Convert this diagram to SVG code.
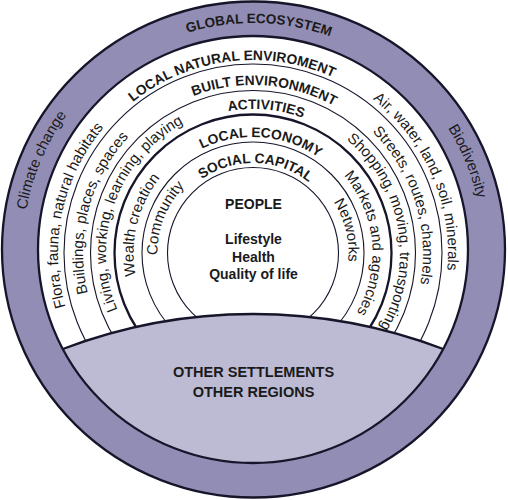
<svg xmlns="http://www.w3.org/2000/svg" xmlns:xlink="http://www.w3.org/1999/xlink" width="508" height="500" viewBox="0 0 508 500">
<style>
.ln{fill:none;stroke:#16152a;stroke-width:1.1}
.thk{fill:none;stroke:#16152a;stroke-width:2.3}
.cap{font-family:"Liberation Sans",Arial,sans-serif;font-weight:bold;font-size:13.8px;fill:#1a1a1a;text-anchor:middle}
.low{font-family:"Liberation Sans",Arial,sans-serif;font-size:15px;fill:#1a1a1a;text-anchor:middle}
.ctr{font-family:"Liberation Sans",Arial,sans-serif;font-weight:bold;font-size:14px;fill:#1a1a1a;text-anchor:middle}
</style>
<defs>
<path id="p227" d="M 253 477 A 227 227 0 1 1 253 23 A 227 227 0 1 1 253 477"/>
<path id="p230" d="M 253 480 A 230 230 0 1 1 253 20 A 230 230 0 1 1 253 480"/>
<path id="p193" d="M 253 446 A 193 193 0 1 1 253 60 A 193 193 0 1 1 253 446"/>
<path id="p195" d="M 253 448 A 195 195 0 1 1 253 58 A 195 195 0 1 1 253 448"/>
<path id="p168" d="M 253 421 A 168 168 0 1 1 253 85 A 168 168 0 1 1 253 421"/>
<path id="p170" d="M 253 423 A 170 170 0 1 1 253 83 A 170 170 0 1 1 253 423"/>
<path id="p144" d="M 253 397 A 144 144 0 1 1 253 109 A 144 144 0 1 1 253 397"/>
<path id="p147" d="M 253 400 A 147 147 0 1 1 253 106 A 147 147 0 1 1 253 400"/>
<path id="p116" d="M 253 369 A 116 116 0 1 1 253 137 A 116 116 0 1 1 253 369"/>
<path id="p119" d="M 253 372.5 A 119.5 119.5 0 1 1 253 133.5 A 119.5 119.5 0 1 1 253 372.5"/>
<path id="p90" d="M 253 343 A 90 90 0 1 1 253 163 A 90 90 0 1 1 253 343"/>
<path id="p95" d="M 253 348.5 A 95.5 95.5 0 1 1 253 157.5 A 95.5 95.5 0 1 1 253 348.5"/>
</defs>

<g id="global-ecosystem">
<ellipse cx="253.5" cy="249.5" rx="251.5" ry="248" fill="#928db5"/>
<ellipse cx="253" cy="249.5" rx="215" ry="213.5" fill="#ffffff"/>
<text class="cap" style="font-size:13.5px"><textPath xlink:href="#p227" startOffset="50.42%">GLOBAL ECOSYSTEM</textPath></text>
<text class="low"><textPath xlink:href="#p230" startOffset="31.39%">Climate change</textPath></text>
<text class="low"><textPath xlink:href="#p230" startOffset="68.75%">Biodiversity</textPath></text>
</g>

<g id="local-natural-environment">
<circle class="ln" cx="253" cy="253" r="189"/>
<text class="cap"><textPath xlink:href="#p193" startOffset="48.06%">LOCAL NATURAL ENVIROMENT</textPath></text>
<text class="low"><textPath xlink:href="#p195" startOffset="28.33%">Flora, fauna, natural habitats</textPath></text>
<text class="low"><textPath xlink:href="#p195" startOffset="68.47%">Air, water, land, soil, minerals</textPath></text>
</g>

<g id="built-environment">
<circle class="ln" cx="253" cy="253" r="162.5"/>
<text class="cap"><textPath xlink:href="#p168" startOffset="51.11%">BUILT ENVIRONMENT</textPath></text>
<text class="low"><textPath xlink:href="#p170" startOffset="29.08%">Buildings, places, spaces</textPath></text>
<text class="low"><textPath xlink:href="#p170" startOffset="70.14%">Streets, routes, channels</textPath></text>
</g>

<g id="activities">
<circle class="thk" cx="253" cy="253" r="138.5"/>
<text class="cap"><textPath xlink:href="#p144" startOffset="51.44%">ACTIVITIES</textPath></text>
<text class="low"><textPath xlink:href="#p147" startOffset="30.42%">Living, working, learning, playing</textPath></text>
<text class="low"><textPath xlink:href="#p147" startOffset="72.22%">Shopping, moving, transporting</textPath></text>
</g>

<g id="local-economy">
<circle class="ln" cx="253" cy="253" r="111"/>
<text class="cap"><textPath xlink:href="#p116" startOffset="51.14%">LOCAL ECONOMY</textPath></text>
<text class="low"><textPath xlink:href="#p119" startOffset="28.89%">Wealth creation</textPath></text>
<text class="low"><textPath xlink:href="#p119" startOffset="73.53%">Markets and agencies</textPath></text>
</g>

<g id="social-capital">
<circle class="ln" cx="253" cy="253" r="85.5"/>
<text class="cap"><textPath xlink:href="#p90" startOffset="50.5%">SOCIAL CAPITAL</textPath></text>
<text class="low"><textPath xlink:href="#p95" startOffset="30.97%">Community</textPath></text>
<text class="low"><textPath xlink:href="#p95" startOffset="71.22%">Networks</textPath></text>
</g>

<g id="people">
<text class="ctr" x="253.5" y="208.5">PEOPLE</text>
<text class="ctr" x="253.5" y="243.5">Lifestyle</text>
<text class="ctr" x="253.5" y="261.5">Health</text>
<text class="ctr" x="253.5" y="279">Quality of life</text>
</g>

<g id="other-settlements">
<path d="M 62.8 349 A 534 534 0 0 1 443.2 349 A 215 213.5 0 0 1 62.8 349 Z" fill="#bdbad3"/>
<path class="thk" d="M 62.8 349 A 534 534 0 0 1 443.2 349"/>
<text class="ctr" style="font-size:14.5px" x="253.5" y="376.5">OTHER SETTLEMENTS</text>
<text class="ctr" style="font-size:14.5px" x="253.5" y="397">OTHER REGIONS</text>
</g>

<g id="outlines">
<ellipse class="thk" cx="253" cy="249.5" rx="215" ry="213.5"/>
<ellipse class="thk" cx="253.5" cy="249.5" rx="251.5" ry="248"/>
</g>
</svg>
